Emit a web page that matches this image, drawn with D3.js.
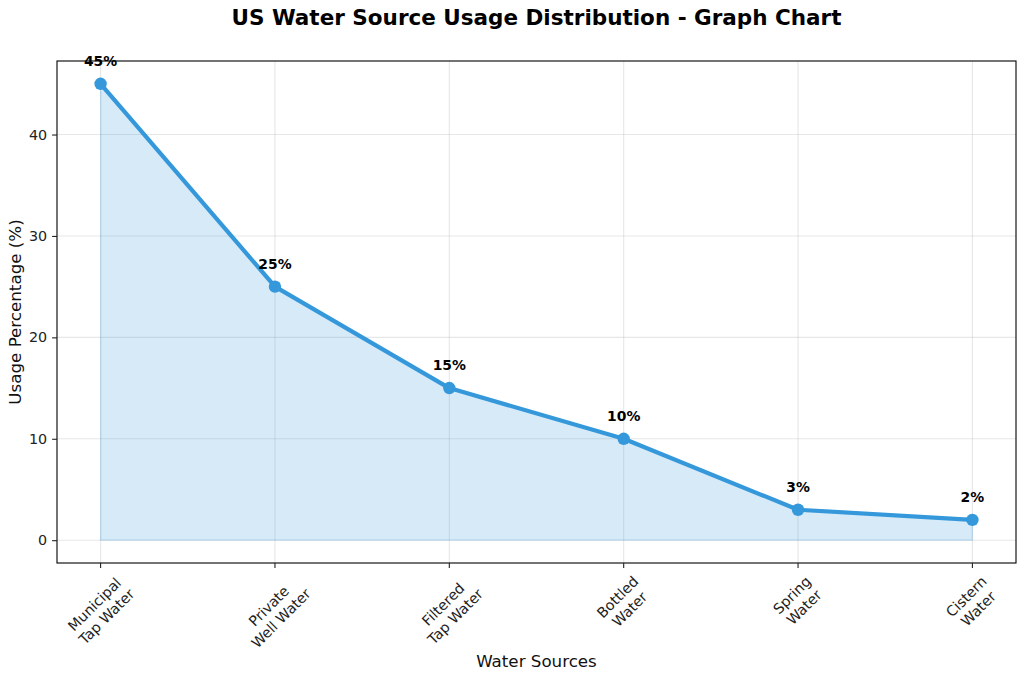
<!DOCTYPE html>
<html>
<head>
<meta charset="utf-8">
<script src="https://cdn.jsdelivr.net/npm/d3@7"></script>
<style>
  body { margin: 0; background: #fff; }
  text { font-family: "DejaVu Sans", sans-serif; }
</style>
</head>
<body>
<svg id="chart" width="1024" height="680"></svg>
<script>
const sources = [
  ["Municipal", "Tap Water"],
  ["Private", "Well Water"],
  ["Filtered", "Tap Water"],
  ["Bottled", "Water"],
  ["Spring", "Water"],
  ["Cistern", "Water"]
]
const usage = [45, 25, 15, 10, 3, 2]
const yTicks = [0, 10, 20, 30, 40]

const width = 1024
const height = 680
const margin = { left: 57, right: 8, top: 61, bottom: 117 }
const lineColor = '#3498db'
const tickFont = '14.3px'

const svg = d3.select('#chart')

const x = d3.scaleLinear()
  .domain([-0.25, sources.length - 1 + 0.25])
  .range([margin.left, width - margin.right])

const y = d3.scaleLinear()
  .domain([-2.25, 47.25])
  .range([height - margin.bottom, margin.top])

const data = usage.map((v, i) => ({ i: i, v: v }))

// grid
const grid = svg.append('g')
grid.selectAll('.gx')
  .data(d3.range(sources.length))
  .enter()
  .append('line')
  .attr('x1', d => x(d)).attr('x2', d => x(d))
  .attr('y1', margin.top).attr('y2', height - margin.bottom)
  .attr('stroke', '#b0b0b0').attr('stroke-opacity', 0.3).attr('stroke-width', 1.1)
grid.selectAll('.gy')
  .data(yTicks)
  .enter()
  .append('line')
  .attr('x1', margin.left).attr('x2', width - margin.right)
  .attr('y1', d => y(d)).attr('y2', d => y(d))
  .attr('stroke', '#b0b0b0').attr('stroke-opacity', 0.3).attr('stroke-width', 1.1)

// filled area
const area = d3.area()
  .x(d => x(d.i))
  .y0(y(0))
  .y1(d => y(d.v))

svg.append('path')
  .datum(data)
  .attr('d', area)
  .attr('fill', lineColor)
  .attr('fill-opacity', 0.2)
  .attr('stroke', lineColor)
  .attr('stroke-opacity', 0.2)
  .attr('stroke-width', 1.3)

// line + markers
const line = d3.line()
  .x(d => x(d.i))
  .y(d => y(d.v))

svg.append('path')
  .datum(data)
  .attr('d', line)
  .attr('fill', 'none')
  .attr('stroke', lineColor)
  .attr('stroke-width', 4.2)
  .attr('stroke-linejoin', 'round')
  .attr('stroke-linecap', 'round')

svg.append('g').selectAll('circle')
  .data(data)
  .enter()
  .append('circle')
  .attr('cx', d => x(d.i))
  .attr('cy', d => y(d.v))
  .attr('r', 6.2)
  .attr('fill', lineColor)

// value labels
svg.append('g').selectAll('text')
  .data(data)
  .enter()
  .append('text')
  .attr('x', d => x(d.i))
  .attr('y', d => y(d.v) - 18)
  .attr('text-anchor', 'middle')
  .attr('font-size', '13.9px')
  .attr('font-weight', 'bold')
  .attr('fill', '#000')
  .text(d => d.v + '%')

// frame
svg.append('rect')
  .attr('x', margin.left)
  .attr('y', margin.top)
  .attr('width', width - margin.left - margin.right)
  .attr('height', height - margin.top - margin.bottom)
  .attr('fill', 'none')
  .attr('stroke', '#000')
  .attr('stroke-width', 1.1)

// y axis
const yAxis = d3.axisLeft(y)
  .tickValues(yTicks)
  .tickSize(4.9)
  .tickPadding(4.9)

const yAxisG = svg.append('g')
  .attr('transform', `translate(${margin.left},0)`)
  .call(yAxis)
yAxisG.select('.domain').remove()
yAxisG.selectAll('text')
  .attr('font-size', tickFont)
  .attr('font-family', '"DejaVu Sans", sans-serif')
  .attr('fill', '#222')
yAxisG.selectAll('line').attr('stroke', '#222').attr('stroke-width', 1.1)

// x axis
const xAxisG = svg.append('g')
  .attr('transform', `translate(0,${height - margin.bottom})`)
xAxisG.selectAll('line')
  .data(d3.range(sources.length))
  .enter()
  .append('line')
  .attr('x1', d => x(d)).attr('x2', d => x(d))
  .attr('y1', 0).attr('y2', 4.9)
  .attr('stroke', '#222').attr('stroke-width', 1.1)

const labelTop = 9.8
const lh = 14.3 * 1.2
sources.forEach((lines, i) => {
  const t = xAxisG.append('text')
    .attr('text-anchor', 'middle')
    .attr('font-size', tickFont)
    .attr('fill', '#222')
  lines.forEach((s, j) => {
    t.append('tspan')
      .attr('x', 0)
      .attr('y', (j - (lines.length - 1) / 2) * lh + 5)
      .text(s)
  })
  const w = t.node().getBBox().width
  const h = lines.length * lh
  const side = (w + h) / Math.SQRT2
  t.attr('transform', `translate(${x(i)},${labelTop + side / 2}) rotate(-45)`)
})

// titles
svg.append('text')
  .attr('x', (margin.left + width - margin.right) / 2)
  .attr('y', 25)
  .attr('text-anchor', 'middle')
  .attr('font-size', '21.5px')
  .attr('font-weight', 'bold')
  .text('US Water Source Usage Distribution - Graph Chart')

svg.append('text')
  .attr('x', (margin.left + width - margin.right) / 2)
  .attr('y', 667)
  .attr('text-anchor', 'middle')
  .attr('font-size', '16.7px')
  .attr('fill', '#111')
  .text('Water Sources')

svg.append('text')
  .attr('transform', `translate(21,${(margin.top + height - margin.bottom) / 2}) rotate(-90)`)
  .attr('text-anchor', 'middle')
  .attr('font-size', '16.7px')
  .attr('fill', '#111')
  .text('Usage Percentage (%)')
</script>
</body>
</html>
